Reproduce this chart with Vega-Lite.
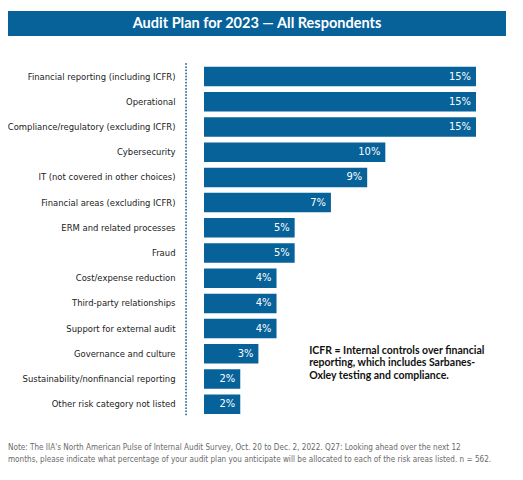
{
  "$schema": "https://vega.github.io/schema/vega-lite/v6.json",
  "padding": {"left": 7, "top": 11, "right": 18, "bottom": 5},
  "background": "white",
  "config": {
    "view": {"stroke": null},
    "concat": {"spacing": 27},
    "axisY": {
      "title": null,
      "offset": -178,
      "ticks": false,
      "grid": false,
      "labelPadding": 11,
      "labelFont": "DejaVu Sans Condensed, sans-serif",
      "labelFontSize": 9.4,
      "labelColor": "#222222",
      "labelLimit": 300,
      "domain": false
    }
  },
  "title": {
    "text": ["Note: The IIA's North American Pulse of Internal Audit Survey, Oct. 20 to Dec. 2, 2022. Q27: Looking ahead over the next 12", "months, please indicate what percentage of your audit plan you anticipate will be allocated to each of the risk areas listed. n = 562."],
    "orient": "bottom",
    "anchor": "start",
    "frame": "group",
    "offset": 26,
    "font": "DejaVu Sans Condensed, sans-serif",
    "fontSize": 8.1,
    "fontWeight": "normal",
    "color": "#6a6a6a",
    "lineHeight": 12.5
  },
  "datasets": {
    "bars": [
      {"area": "Financial reporting (including ICFR)", "share": 0.15},
      {"area": "Operational", "share": 0.15},
      {"area": "Compliance/regulatory (excluding ICFR)", "share": 0.15},
      {"area": "Cybersecurity", "share": 0.10},
      {"area": "IT (not covered in other choices)", "share": 0.09},
      {"area": "Financial areas (excluding ICFR)", "share": 0.07},
      {"area": "ERM and related processes", "share": 0.05},
      {"area": "Fraud", "share": 0.05},
      {"area": "Cost/expense reduction", "share": 0.04},
      {"area": "Third-party relationships", "share": 0.04},
      {"area": "Support for external audit", "share": 0.04},
      {"area": "Governance and culture", "share": 0.03},
      {"area": "Sustainability/nonfinancial reporting", "share": 0.02},
      {"area": "Other risk category not listed", "share": 0.02}
    ],
    "notes": [
      {"anchor": "Governance and culture"}
    ]
  },
  "vconcat": [
    {
      "width": 498,
      "height": 25,
      "view": {"fill": "#07629a", "stroke": null},
      "data": {"values": [{"t": "Audit Plan for 2023 — All Respondents"}]},
      "mark": {"type": "text", "color": "white", "font": "Lato", "fontWeight": "bold", "fontSize": 14.5, "align": "center", "baseline": "middle"},
      "encoding": {"text": {"field": "t"}}
    },
    {
      "width": 498,
      "height": 352.8,
      "layer": [
        {
          "data": {"name": "bars"},
          "mark": {"type": "bar", "color": "#07629a"},
          "encoding": {
            "y": {
              "field": "area",
              "type": "nominal",
              "sort": null,
              "scale": {"paddingInner": 0.226, "paddingOuter": 0.113},
              "axis": {"title": null}
            },
            "x": {
              "field": "share",
              "type": "quantitative",
              "scale": {"domain": [-0.10809, 0.16655], "nice": false, "zero": false},
              "axis": null
            },
            "x2": {"datum": 0}
          }
        },
        {
          "data": {"name": "notes"},
          "mark": {"type": "rule", "color": "#2a6496", "strokeDash": [0.1, 3], "strokeCap": "round", "strokeWidth": 1.8},
          "encoding": {
            "x": {"datum": -0.0099, "type": "quantitative", "axis": null}
          }
        },
        {
          "data": {"name": "bars"},
          "mark": {"type": "text", "align": "right", "baseline": "middle", "dx": -5, "color": "white", "font": "DejaVu Sans Condensed, sans-serif", "fontSize": 11},
          "encoding": {
            "y": {"field": "area", "type": "nominal", "sort": null, "axis": {"title": null}},
            "x": {"field": "share", "type": "quantitative", "axis": null},
            "text": {"field": "share", "type": "quantitative", "format": ".0%"}
          }
        },
        {
          "data": {"name": "notes"},
          "mark": {"type": "text", "align": "left", "baseline": "middle", "dy": -3, "lineHeight": 12.5, "color": "#111111", "font": "Lato", "fontWeight": "bold", "fontSize": 10.5},
          "encoding": {
            "text": {"value": ["ICFR = Internal controls over financial", "reporting, which includes Sarbanes-", "Oxley testing and compliance."]},
            "x": {"datum": 0.058, "type": "quantitative", "axis": null},
            "y": {"field": "anchor", "type": "nominal", "sort": null, "axis": {"title": null}}
          }
        }
      ]
    }
  ]
}
